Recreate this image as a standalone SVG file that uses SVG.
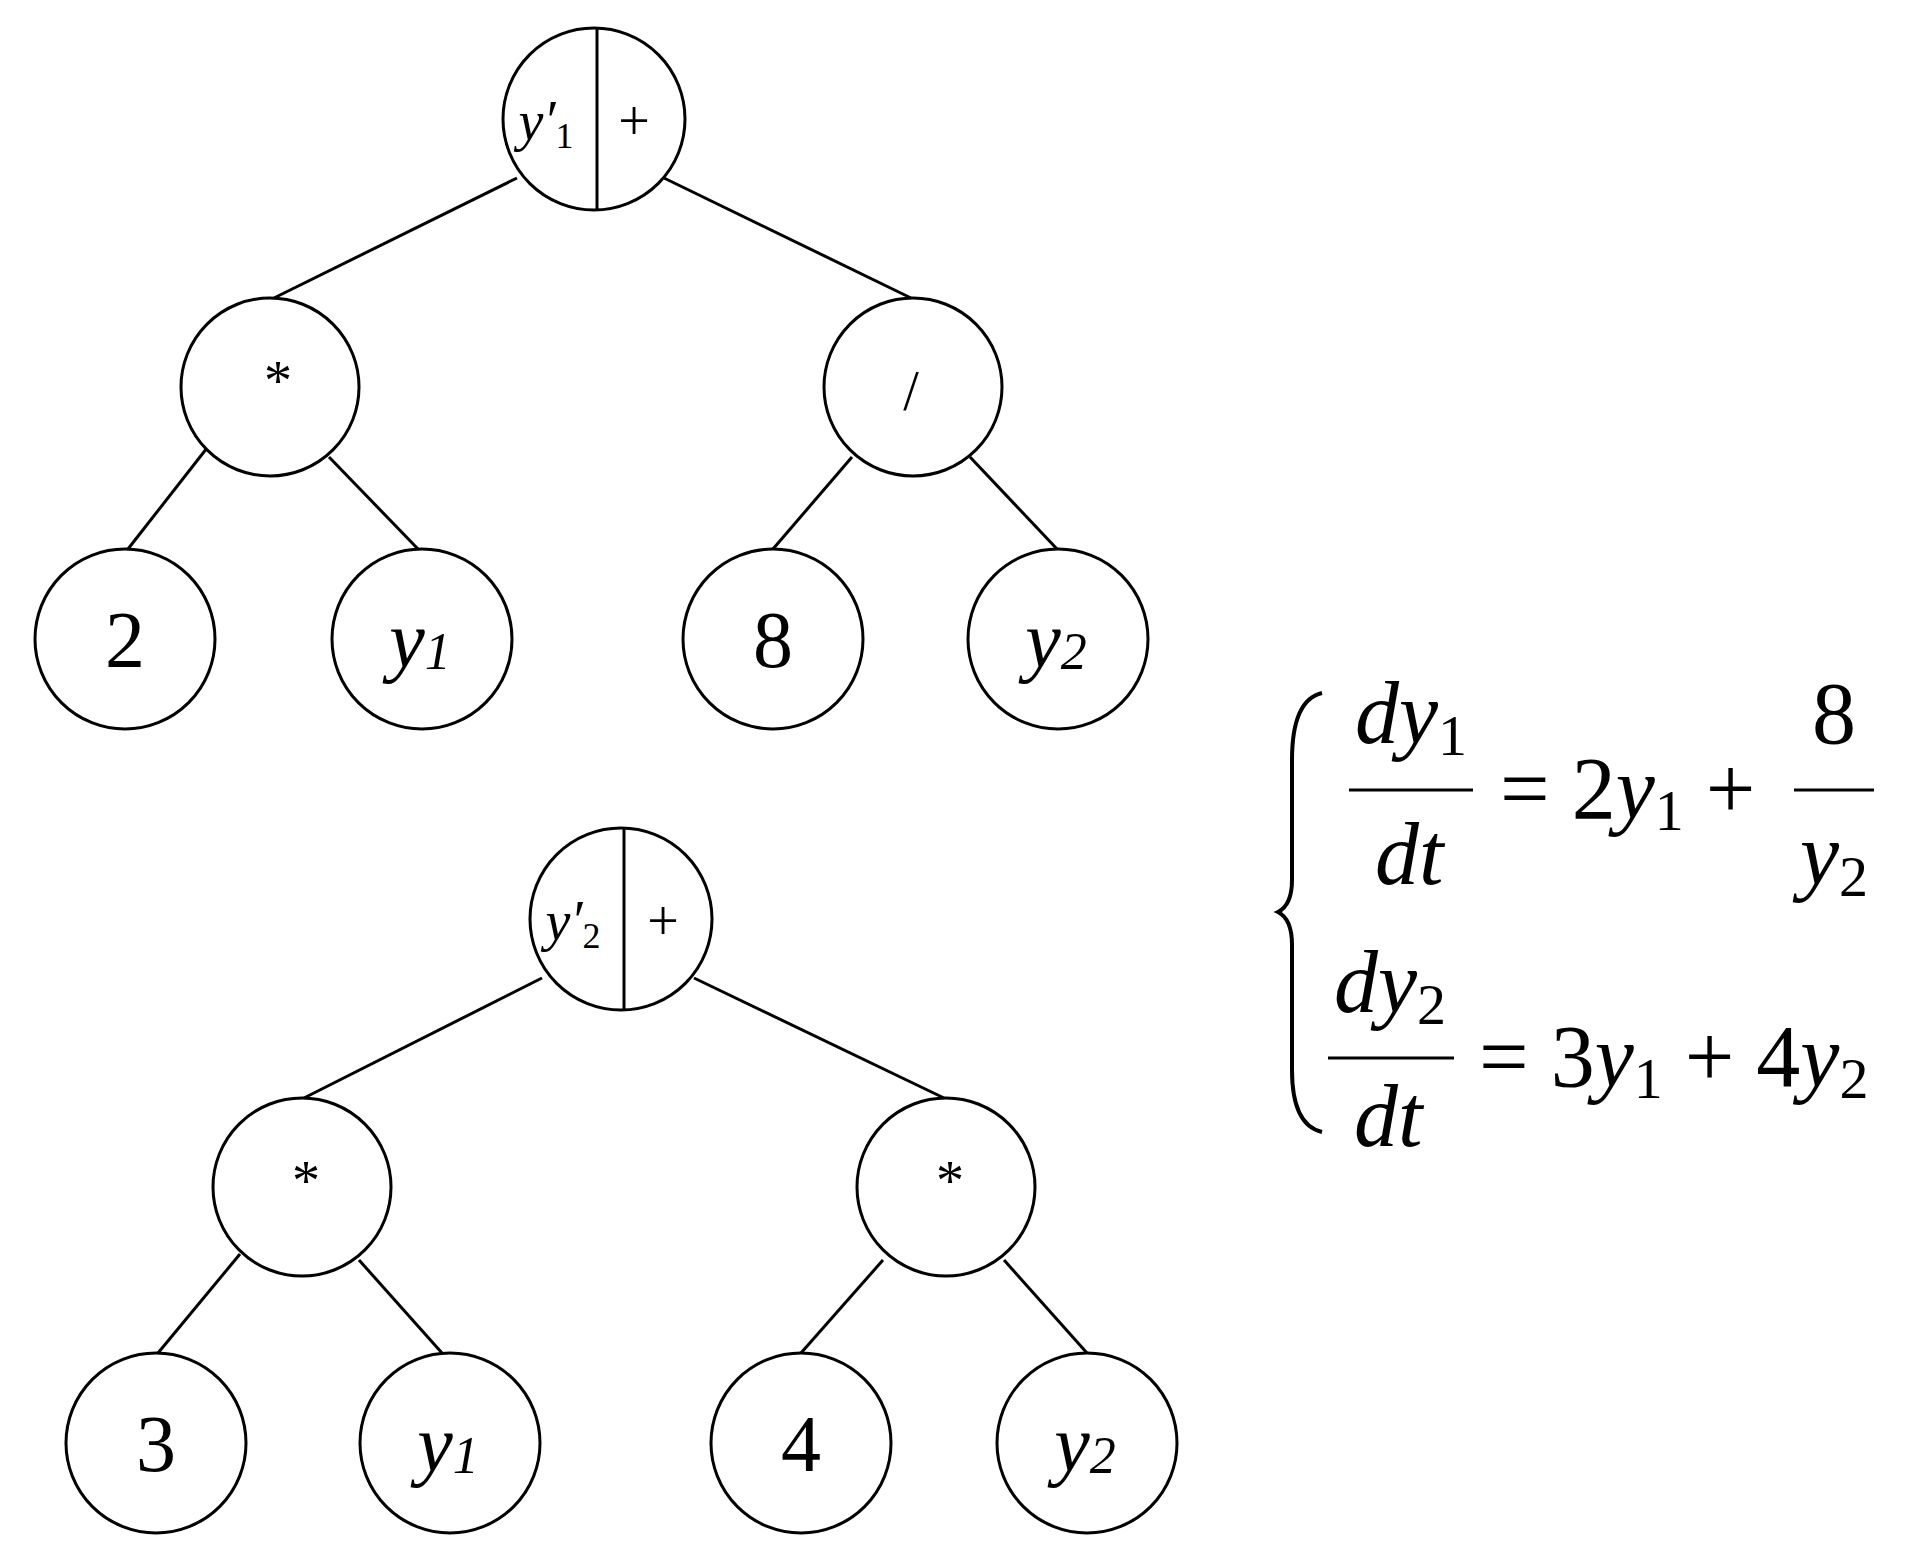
<svg xmlns="http://www.w3.org/2000/svg" width="1909" height="1558" viewBox="0 0 1909 1558">
<style>
circle{fill:#fff;stroke:#000;stroke-width:3}
line{stroke:#000;stroke-width:3}
text{font-family:"Liberation Serif",serif;fill:#000}
.lf{font-size:80px;text-anchor:middle}
.op{font-size:56px;text-anchor:middle}
.it{font-style:italic}
.eq{font-size:88px}
.sb{font-size:58px}
</style>
<rect width="1909" height="1558" fill="#fff"/>
<g id="connectors">
<line x1="517" y1="178" x2="274" y2="298"/><line x1="664" y1="178" x2="911" y2="298"/>
<line x1="207" y1="448" x2="128" y2="549"/><line x1="329" y1="457" x2="418" y2="549"/>
<line x1="852" y1="457" x2="773" y2="549"/><line x1="970" y1="457" x2="1057" y2="549"/>
<line x1="542" y1="978" x2="304" y2="1098"/><line x1="694" y1="978" x2="944" y2="1098"/>
<line x1="240" y1="1254" x2="158" y2="1353"/><line x1="359" y1="1260" x2="442" y2="1353"/>
<line x1="883" y1="1260" x2="801" y2="1353"/><line x1="1004" y1="1260" x2="1087" y2="1353"/>
</g>
<g id="root1"><circle cx="594" cy="119" r="91"/><line x1="597" y1="28" x2="597" y2="210"/>
<text x="546" y="140" class="op it">y′<tspan font-size="36" font-style="normal" dy="8">1</tspan></text><text x="634" y="140" class="op">+</text></g>
<g id="mul1"><circle cx="270" cy="387" r="89"/><text x="278" y="400" class="op">*</text></g>
<g id="div1"><circle cx="913" cy="387" r="89"/><text x="911" y="410" class="op">/</text></g>
<g id="n2"><circle cx="125" cy="639" r="90"/><text x="125" y="667" class="lf">2</text></g>
<g id="y1a"><circle cx="422" cy="639" r="90"/><text x="420" y="667" class="lf it">y<tspan font-size="52" dy="2">1</tspan></text></g>
<g id="n8"><circle cx="773" cy="639" r="90"/><text x="773" y="667" class="lf">8</text></g>
<g id="y2a"><circle cx="1058" cy="639" r="90"/><text x="1056" y="667" class="lf it">y<tspan font-size="52" dy="2">2</tspan></text></g>
<g id="root2"><circle cx="621" cy="919" r="91"/><line x1="624" y1="828" x2="624" y2="1010"/>
<text x="573" y="940" class="op it">y′<tspan font-size="36" font-style="normal" dy="8">2</tspan></text><text x="663" y="940" class="op">+</text></g>
<g id="mul2"><circle cx="302" cy="1187" r="89"/><text x="306" y="1200" class="op">*</text></g>
<g id="mul3"><circle cx="946" cy="1187" r="89"/><text x="950" y="1200" class="op">*</text></g>
<g id="n3"><circle cx="156" cy="1443" r="90"/><text x="156" y="1471" class="lf">3</text></g>
<g id="y1b"><circle cx="450" cy="1443" r="90"/><text x="448" y="1471" class="lf it">y<tspan font-size="52" dy="2">1</tspan></text></g>
<g id="n4"><circle cx="801" cy="1443" r="90"/><text x="801" y="1471" class="lf">4</text></g>
<g id="y2b"><circle cx="1087" cy="1443" r="90"/><text x="1085" y="1471" class="lf it">y<tspan font-size="52" dy="2">2</tspan></text></g>
<g id="equations">
<path d="M1322,693 Q1292,700 1292,760 L1292,880 Q1292,905 1278,912 Q1292,919 1292,945 L1292,1070 Q1292,1125 1322,1132" fill="none" stroke="#000" stroke-width="4"/>
<line x1="1349" y1="790" x2="1473" y2="790" stroke-width="5"/>
<text x="1355" y="743" class="eq it">dy<tspan class="sb" font-style="normal" dy="12">1</tspan></text>
<text x="1375" y="884" class="eq it">dt</text>
<text x="1500" y="818" class="eq">= 2<tspan font-style="italic">y</tspan><tspan class="sb" dy="12">1</tspan><tspan dy="-12"> +</tspan></text>
<line x1="1794" y1="790" x2="1874" y2="790" stroke-width="5"/>
<text x="1834" y="743" class="eq" text-anchor="middle">8</text>
<text x="1800" y="884" class="eq it">y<tspan class="sb" font-style="normal" dy="12">2</tspan></text>
<line x1="1328" y1="1058" x2="1454" y2="1058" stroke-width="5"/>
<text x="1334" y="1012" class="eq it">dy<tspan class="sb" font-style="normal" dy="12">2</tspan></text>
<text x="1354" y="1146" class="eq it">dt</text>
<text x="1479" y="1086" class="eq">= 3<tspan font-style="italic">y</tspan><tspan class="sb" dy="12">1</tspan><tspan dy="-12"> + 4</tspan><tspan font-style="italic">y</tspan><tspan class="sb" dy="12">2</tspan></text>
</g>
</svg>
